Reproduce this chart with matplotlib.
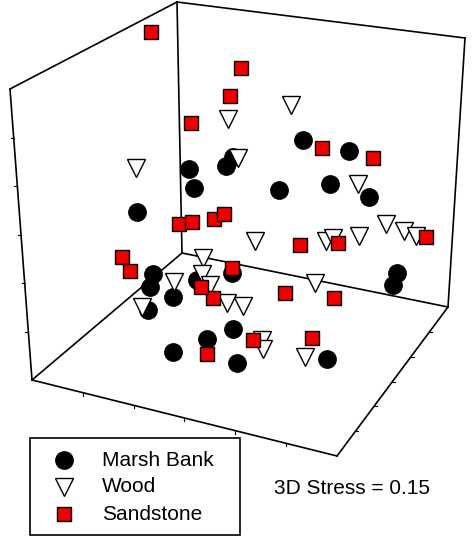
import matplotlib
matplotlib.use("Agg")
import matplotlib.pyplot as plt

plt.rcParams['font.family'] = ['Liberation Sans', 'DejaVu Sans']

# projected ordination coordinates (image space)
marsh_x = [303, 349, 226, 233, 189, 194, 279, 330, 369, 137, 397, 393, 153, 150, 148, 173, 197, 232, 233, 207, 173, 237, 327]
marsh_y = [140, 151, 166, 157, 169, 188, 190, 184, 197, 212, 273, 285, 274, 287, 310, 297, 280, 273, 329, 339, 352, 363, 359]
wood_x = [136, 228, 291, 238, 358, 386, 404, 416, 255, 326, 333, 359, 203, 202, 174, 210, 315, 142, 227, 243, 262, 263, 305]
wood_y = [168, 119, 105, 158, 184, 224, 231, 236, 241, 241, 238, 236, 258, 274, 282, 285, 283, 307, 303, 306, 340, 349, 357]
sand_x = [151, 241, 230, 191, 322, 373, 179, 192, 214, 224, 300, 338, 426, 122, 130, 232, 213, 201, 285, 334, 253, 312, 207]
sand_y = [32, 68, 96, 123, 148, 158, 224, 222, 219, 214, 245, 243, 237, 257, 271, 268, 298, 287, 293, 298, 340, 338, 354]

# box frame
frame = [((10, 89), (177, 2)), ((177, 2), (182, 253)), ((177, 2), (465, 38)),
         ((465, 38), (448, 307)), ((10, 89), (32, 380)), ((182, 253), (448, 307)),
         ((182, 253), (32, 380)), ((32, 380), (337, 456)), ((337, 456), (448, 307))]

fig = plt.figure(figsize=(4.74, 5.53), dpi=100)
ax = fig.add_axes([0, 0, 1, 1])
ax.set_xlim(0, 474)
ax.set_ylim(553, 0)
ax.axis('off')

for (a, b) in frame:
    ax.plot([a[0], b[0]], [a[1], b[1]], color='black', lw=1.2, zorder=1)

# tick marks
def ticks(a, b, n, dx, dy):
    for i in range(1, n + 1):
        t = i / (n + 1)
        x = a[0] + t * (b[0] - a[0]); y = a[1] + t * (b[1] - a[1])
        ax.plot([x, x + dx], [y, y + dy], color='black', lw=0.8, zorder=1)
ticks((10, 89), (32, 380), 5, -3, 0)
ticks((32, 380), (337, 456), 5, 0, 3)
ticks((337, 456), (448, 307), 5, 3, 0)

ms = dict(markeredgecolor='black', markeredgewidth=1.0, linestyle='none')
ax.plot(marsh_x, marsh_y, 'o', color='black', markersize=12.5, zorder=3, **ms)
ax.plot(wood_x, wood_y, 'v', markerfacecolor='white', markersize=13, zorder=3, **ms)
ax.plot(sand_x, sand_y, 's', markerfacecolor='#ee0000', markersize=10.5, zorder=3, **ms)

# legend
ax.add_patch(plt.Rectangle((30, 438), 210, 97, fill=False, lw=1.2, color='black'))
ax.plot([64], [460], 'o', color='black', markersize=12.5, **ms)
ax.plot([64], [487], 'v', markerfacecolor='white', markersize=13, **ms)
ax.plot([64], [514], 's', markerfacecolor='#ee0000', markersize=10.5, **ms)
for y, t in [(460, 'Marsh Bank'), (487, 'Wood'), (514, 'Sandstone')]:
    ax.text(102, y, t, fontsize=15, va='center', ha='left')
ax.text(274, 488, '3D Stress = 0.15', fontsize=15, va='center', ha='left')

fig.savefig('out.png', dpi=100)
